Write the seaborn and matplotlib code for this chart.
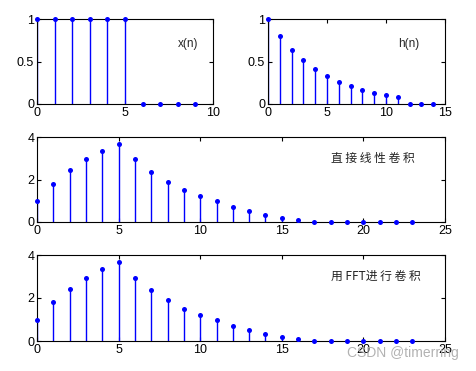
import matplotlib
matplotlib.use("Agg")
import matplotlib.pyplot as plt
import seaborn as sns
import pandas as pd

n_x = [0, 1, 2, 3, 4, 5, 6, 7, 8, 9]
x_vals = [1, 1, 1, 1, 1, 1, 0, 0, 0, 0]

n_h = list(range(15))
h_vals = [1.0, 0.8, 0.64, 0.512, 0.41, 0.328, 0.262, 0.21, 0.168, 0.134, 0.107, 0.086, 0, 0, 0]

n_y = list(range(24))
y_direct = [1.0, 1.8, 2.44, 2.95, 3.36, 3.69, 2.95, 2.36, 1.89, 1.51, 1.21, 0.97,
            0.70, 0.50, 0.33, 0.19, 0.086, 0, 0, 0, 0, 0, 0, 0]
y_fft = list(y_direct)

sns.set_style("ticks")
plt.rcParams['font.family'] = ['Liberation Sans', 'Noto Sans CJK SC', 'DejaVu Sans']

W, H = 476, 371
fig = plt.figure(figsize=(W / 100, H / 100), dpi=100)

def axes_px(l, t, r, b):
    return fig.add_axes([l / W, 1 - b / H, (r - l) / W, (b - t) / H])

def stem(ax, n, v):
    df = pd.DataFrame({"n": n, "v": v})
    ax.vlines(df["n"], 0, df["v"], color="blue", linewidth=1.0)
    sns.scatterplot(data=df, x="n", y="v", ax=ax, color="blue", s=13,
                    edgecolor="blue", linewidth=0, zorder=3, legend=False,
                    clip_on=False)
    ax.set_xlabel("")
    ax.set_ylabel("")

def style(ax, xlim, ylim, xticks, yticks, yticklabels):
    ax.set_xlim(*xlim)
    ax.set_ylim(*ylim)
    ax.set_xticks(xticks)
    ax.set_yticks(yticks)
    ax.set_yticklabels(yticklabels)
    ax.tick_params(direction="in", top=True, right=True, length=3,
                   labelsize=9, width=0.8, pad=2, colors="black")
    for s in ax.spines.values():
        s.set_visible(True)
        s.set_linewidth(0.8)
        s.set_color("black")

ax1 = axes_px(37, 19, 213, 104)
stem(ax1, n_x, x_vals)
style(ax1, (0, 10), (0, 1), [0, 5, 10], [0, 0.5, 1], ["0", "0.5", "1"])
ax1.text(8, 0.7, "x(n)", fontsize=8.5, va="center", ha="left")

ax2 = axes_px(268, 19, 445, 104)
stem(ax2, n_h, h_vals)
style(ax2, (0, 15), (0, 1), [0, 5, 10, 15], [0, 0.5, 1], ["0", "0.5", "1"])
ax2.text(11, 0.7, "h(n)", fontsize=8.5, va="center", ha="left")

ax3 = axes_px(37, 137, 445, 222)
stem(ax3, n_y, y_direct)
style(ax3, (0, 25), (0, 4), [0, 5, 10, 15, 20, 25], [0, 2, 4], ["0", "2", "4"])
ax3.text(18, 3.0, "直 接 线 性 卷 积", fontsize=8.5, va="center", ha="left",
         family=['Noto Sans CJK SC', 'DejaVu Sans'], color="#222222")

ax4 = axes_px(37, 255, 445, 341)
stem(ax4, n_y, y_fft)
style(ax4, (0, 25), (0, 4), [0, 5, 10, 15, 20, 25], [0, 2, 4], ["0", "2", "4"])
ax4.text(18, 3.0, "用 FFT进 行 卷 积", fontsize=8.5, va="center", ha="left",
         family=['Noto Sans CJK SC', 'DejaVu Sans'], color="#222222")

fig.text(347 / W, 1 - 353 / H, "CSDN @timerring", fontsize=10, color="#aaaaaa",
         va="center", ha="left", alpha=0.9)

fig.savefig("out.png", dpi=100, facecolor="white")
